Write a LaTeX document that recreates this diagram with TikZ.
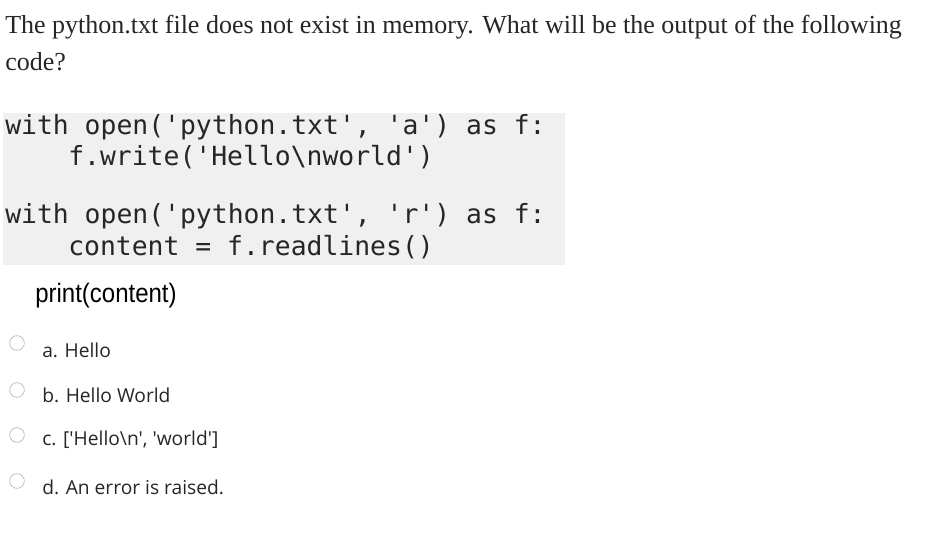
\documentclass[tikz,border=0pt]{standalone}
\usepackage{fontspec}
\setmainfont{Liberation Serif}
\newfontfamily\codefont{DejaVu Sans Mono}
\newfontfamily\printfont[FakeStretch=0.9]{Liberation Sans}
\newfontfamily\optfont{Open Sans}
\begin{document}
\begin{tikzpicture}[x=0.75pt,y=-0.75pt,
  title/.style={anchor=west,inner sep=0,font=\fontsize{19.5}{22}\selectfont,text=black!85},
  code/.style={anchor=west,inner sep=0,font=\codefont\fontsize{19.8}{22}\selectfont,text=black!85},
  opt/.style={anchor=west,inner sep=0,font=\optfont\fontsize{14.4}{17}\selectfont,text=black!85},
  radio/.style={circle,draw=black!25,line width=0.6pt,minimum size=11pt,inner sep=0}]
\useasboundingbox[fill=white] (0,0) rectangle (944,542);
\node[title] (t1) at (5,27) {The python.txt file does not exist in memory. What will be the output of the following};
\node[title] (t2) at (5,62) {code?};
\fill[black!6] (3,113) rectangle (565,265);
\node[code] (c1) at (5,127) {with open('python.txt', 'a') as f:};
\node[code] (c2) at (68,157) {f.write('Hello\textbackslash nworld')};
\node[code] (c3) at (5,216) {with open('python.txt', 'r') as f:};
\node[code] (c4) at (68,247) {content = f.readlines()};
\node[anchor=west,inner sep=0,font=\printfont\fontsize{20}{22}\selectfont] (p) at (35,296) {print(content)};
\node[radio] (r1) at (17,343) {};
\node[radio] (r2) at (17,390) {};
\node[radio] (r3) at (17,435) {};
\node[radio] (r4) at (17,481) {};
\node[opt] (o1) at (42,350) {a. Hello};
\node[opt] (o2) at (42,395) {b. Hello World};
\node[opt] (o3) at (42,440) {c. ['Hello\textbackslash n', 'world']};
\node[opt] (o4) at (42,487) {d. An error is raised.};
\end{tikzpicture}
\end{document}
